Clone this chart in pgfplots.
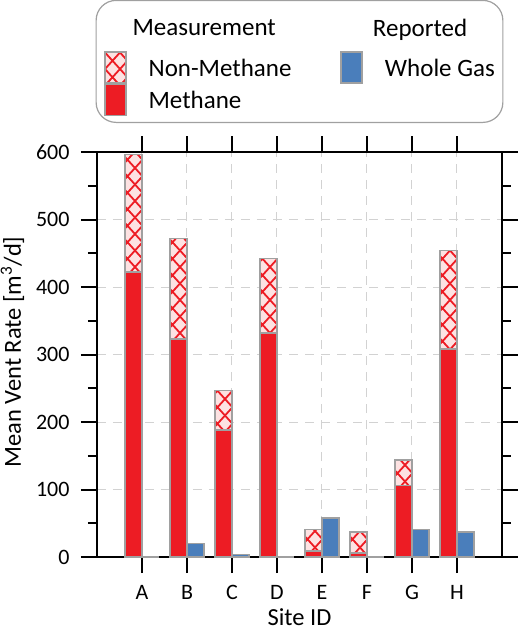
\documentclass[border=0pt]{standalone}
\usepackage{fontspec}
\setmainfont{Carlito}
\usepackage{pgfplots}
\pgfplotsset{compat=1.18}
\usetikzlibrary{patterns.meta}

\definecolor{mred}{HTML}{ED1C24}
\definecolor{mpink}{HTML}{FDE2E2}
\definecolor{mblue}{HTML}{4A7EBB}
\definecolor{mgray}{HTML}{A0A0A0}
\definecolor{gridgray}{HTML}{D2D2D2}

\pgfdeclarepattern{
  name=xhatch,
  type=uncolored,
  bottom left={\pgfpoint{-1pt}{-1pt}},
  top right={\pgfpoint{16pt}{17.5pt}},
  tile size={\pgfpoint{15pt}{16.5pt}},
  code={
    \pgfsetlinewidth{1.8pt}
    \pgfpathmoveto{\pgfpoint{0pt}{0pt}}
    \pgfpathlineto{\pgfpoint{15pt}{16.5pt}}
    \pgfpathmoveto{\pgfpoint{0pt}{16.5pt}}
    \pgfpathlineto{\pgfpoint{15pt}{0pt}}
    \pgfusepath{stroke}
  }
}

\pgfplotsset{
  mylegend/.style={legend image code/.code={\draw[##1] (0pt,-15pt) rectangle (21pt,16pt);}},
  headlegend/.style={legend image code/.code={\path[draw=none,fill=none] (0pt,-23pt) rectangle (0pt,22pt);}},
}

\pgfplotstableread{
x total methane whole
0 596 422 0
1 472 323 20
2 247 188 4
3 442 332 0
4 41 9 58
5 37 6 0
6 144 106 41
7 454 308 37
}\datatable

\begin{document}
\begin{tikzpicture}
\useasboundingbox (-97pt,-73pt) rectangle (423pt,557pt);
\begin{axis}[
  scale only axis,
  width=405pt, height=405pt,
  xmin=-1, xmax=8, ymin=0, ymax=600,
  xtick={0,...,7},
  xticklabels={A,B,C,D,E,F,G,H},
  ytick={0,100,...,600},
  minor y tick num=1,
  tick align=outside,
  major tick length=16pt,
  minor tick length=9pt,
  every tick/.style={black, line width=2pt},
  axis line style={black, line width=2pt},
  grid=major,
  major grid style={gridgray, line width=1pt, dash pattern=on 9pt off 7pt},
  /pgf/number format/assume math mode=true,
  tick label style={font=\fontsize{22}{26}\selectfont},
  yticklabel shift=8pt,
  xticklabel shift=9pt,
  label style={font=\fontsize{24.5}{29}\selectfont, inner sep=0pt},
  xlabel={Site ID},
  ylabel={Mean Vent Rate [m\textsuperscript{3}/d]},
  xlabel style={at={(axis description cs:0.5,-0.170)}, anchor=base},
  ylabel style={at={(axis description cs:-0.188,0.506)}, anchor=base},
  legend columns=2,
  legend style={
    at={(axis description cs:0.5,1)}, anchor=south, yshift=29pt,
    draw=mgray, line width=1.2pt, rounded corners=20pt,
    inner xsep=8pt, inner ysep=6pt,
    font=\fontsize{25}{30}\selectfont,
    cells={anchor=west}, nodes={inner sep=0pt},
    column sep=0pt, row sep=0pt,
    /tikz/every odd column/.append style={column sep=22pt},
    /tikz/every even column/.append style={column sep=49pt},
  },
]
\addlegendimage{headlegend}
\addlegendentry{\hspace*{-16pt}Measurement}
\addlegendimage{headlegend}
\addlegendentry{\hspace*{-12pt}Reported}

\addplot[ybar, bar width=17pt, bar shift=-8.5pt, draw=mgray, line width=1.5pt,
  preaction={fill=mpink}, pattern={xhatch}, pattern color=mred, rounded corners=0pt, mylegend]
  table[x=x, y=total] {\datatable};
\addlegendentry{Non-Methane}

\addplot[ybar, bar width=17pt, bar shift=8.5pt, draw=mgray, line width=1.5pt,
  fill=mblue, rounded corners=0pt, mylegend]
  table[x=x, y=whole] {\datatable};
\addlegendentry{Whole Gas}

\addplot[ybar, bar width=17pt, bar shift=-8.5pt, draw=mgray, line width=1.5pt,
  fill=mred, rounded corners=0pt, mylegend]
  table[x=x, y=methane] {\datatable};
\addlegendentry{Methane}
\end{axis}
\end{tikzpicture}
\end{document}
